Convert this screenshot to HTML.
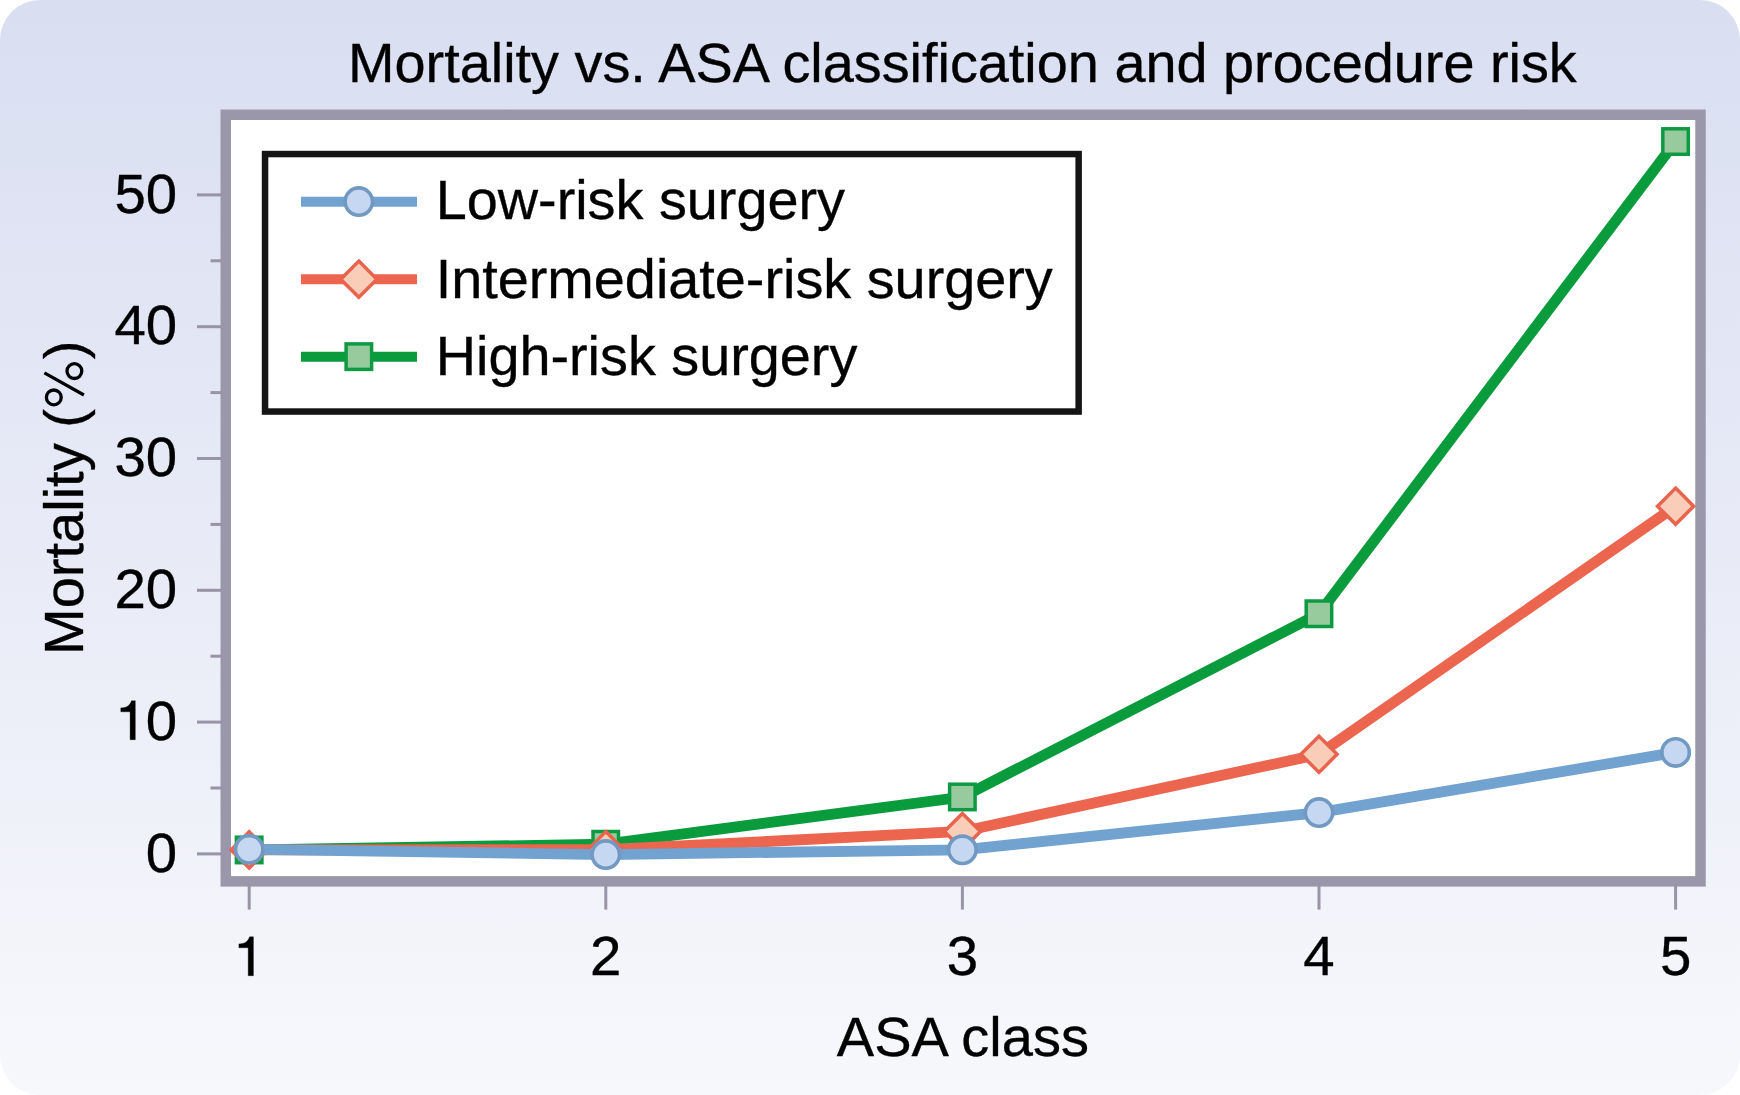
<!DOCTYPE html>
<html><head><meta charset="utf-8">
<style>
html,body{margin:0;padding:0;background:#fff;width:1740px;height:1095px;overflow:hidden}
svg{display:block}
text{font-family:"Liberation Sans", sans-serif;font-size:56px;fill:#000000;stroke:#000000;stroke-width:0.35px}
.ti{font-size:55.84px} .lg{font-size:55.8px} .d{font-size:56.4px}
</style></head><body>
<svg width="1740" height="1095" viewBox="0 0 1740 1095">
<defs>
<linearGradient id="bg" x1="0" y1="0" x2="0" y2="1">
<stop offset="0" stop-color="#d9def1"/>
<stop offset="1" stop-color="#f7f8fc"/>
</linearGradient>
<clipPath id="plot"><rect x="231" y="119.6" width="1464.4" height="756"/></clipPath>
</defs>
<rect x="0" y="0" width="1740" height="1095" rx="40" ry="40" fill="url(#bg)"/>
<text transform="translate(962.4,82)" text-anchor="middle" class="ti">Mortality vs. ASA classification and procedure risk</text>
<rect x="225.75" y="114.75" width="1474.75" height="766.6" fill="#fff" stroke="#9b97ab" stroke-width="10.5"/>
<line x1="197" y1="853.9" x2="222" y2="853.9" stroke="#9893a6" stroke-width="3"/>
<text x="177.2" y="871.5" text-anchor="end" class="d">0</text>
<line x1="197" y1="722.1" x2="222" y2="722.1" stroke="#9893a6" stroke-width="3"/>
<text x="177.2" y="739.7" text-anchor="end" class="d">0</text>
<path d="M135.3,700.8 L135.3,739.7 L130.1,739.7 L130.1,711.8 L120.8,711.8 L120.8,707.9 C126.3,707.9 129.8,705.8 131.5,700.8 Z" fill="#000" stroke="#000" stroke-width="0.35"/>
<line x1="197" y1="590.3" x2="222" y2="590.3" stroke="#9893a6" stroke-width="3"/>
<text x="177.2" y="607.9" text-anchor="end" class="d">20</text>
<line x1="197" y1="458.5" x2="222" y2="458.5" stroke="#9893a6" stroke-width="3"/>
<text x="177.2" y="476.1" text-anchor="end" class="d">30</text>
<line x1="197" y1="326.7" x2="222" y2="326.7" stroke="#9893a6" stroke-width="3"/>
<text x="177.2" y="344.3" text-anchor="end" class="d">40</text>
<line x1="197" y1="194.9" x2="222" y2="194.9" stroke="#9893a6" stroke-width="3"/>
<text x="177.2" y="212.5" text-anchor="end" class="d">50</text>
<line x1="210.5" y1="788.0" x2="222" y2="788.0" stroke="#9893a6" stroke-width="3"/>
<line x1="210.5" y1="656.2" x2="222" y2="656.2" stroke="#9893a6" stroke-width="3"/>
<line x1="210.5" y1="524.4" x2="222" y2="524.4" stroke="#9893a6" stroke-width="3"/>
<line x1="210.5" y1="392.6" x2="222" y2="392.6" stroke="#9893a6" stroke-width="3"/>
<line x1="210.5" y1="260.8" x2="222" y2="260.8" stroke="#9893a6" stroke-width="3"/>
<line x1="249.2" y1="884" x2="249.2" y2="909.6" stroke="#9893a6" stroke-width="3"/>
<path d="M253.4,936.8 L253.4,975.7 L248.2,975.7 L248.2,947.8 L238.9,947.8 L238.9,943.9 C244.4,943.9 247.9,941.8 249.6,936.8 Z" fill="#000" stroke="#000" stroke-width="0.35"/>
<line x1="605.8" y1="884" x2="605.8" y2="909.6" stroke="#9893a6" stroke-width="3"/>
<text x="605.8" y="975.2" text-anchor="middle" class="d">2</text>
<line x1="962.4" y1="884" x2="962.4" y2="909.6" stroke="#9893a6" stroke-width="3"/>
<text x="962.4" y="975.2" text-anchor="middle" class="d">3</text>
<line x1="1319.0" y1="884" x2="1319.0" y2="909.6" stroke="#9893a6" stroke-width="3"/>
<text x="1319.0" y="975.2" text-anchor="middle" class="d">4</text>
<line x1="1675.6" y1="884" x2="1675.6" y2="909.6" stroke="#9893a6" stroke-width="3"/>
<text x="1675.6" y="975.2" text-anchor="middle" class="d">5</text>
<g>
<polyline points="249.2,850.0 605.8,844.2 962.4,797.0 1319.0,613.8 1675.6,141.5" fill="none" stroke="#0a9b3d" stroke-width="10.8" stroke-linejoin="miter"/>
<rect x="236.4" y="837.2" width="25.5" height="25.5" fill="#97cb9e" stroke="#0e9a42" stroke-width="3.5"/>
<rect x="593.0" y="831.5" width="25.5" height="25.5" fill="#97cb9e" stroke="#0e9a42" stroke-width="3.5"/>
<rect x="949.6" y="784.2" width="25.5" height="25.5" fill="#97cb9e" stroke="#0e9a42" stroke-width="3.5"/>
<rect x="1306.2" y="601.0" width="25.5" height="25.5" fill="#97cb9e" stroke="#0e9a42" stroke-width="3.5"/>
<rect x="1662.8" y="128.8" width="25.5" height="25.5" fill="#97cb9e" stroke="#0e9a42" stroke-width="3.5"/>
<polyline points="249.2,849.9 605.8,849.7 962.4,831.5 1319.0,754.3 1675.6,506.2" fill="none" stroke="#eb654f" stroke-width="10.8" stroke-linejoin="miter"/>
<path d="M249.2,831.8 L267.3,849.9 L249.2,868.0 L231.1,849.9 Z" fill="#f9cdb8" stroke="#e8644f" stroke-width="3.5" stroke-linejoin="miter"/>
<path d="M605.8,831.6 L623.9,849.7 L605.8,867.8 L587.7,849.7 Z" fill="#f9cdb8" stroke="#e8644f" stroke-width="3.5" stroke-linejoin="miter"/>
<path d="M962.4,813.4 L980.5,831.5 L962.4,849.6 L944.3,831.5 Z" fill="#f9cdb8" stroke="#e8644f" stroke-width="3.5" stroke-linejoin="miter"/>
<path d="M1319.0,736.2 L1337.1,754.3 L1319.0,772.4 L1300.9,754.3 Z" fill="#f9cdb8" stroke="#e8644f" stroke-width="3.5" stroke-linejoin="miter"/>
<path d="M1675.6,488.1 L1693.7,506.2 L1675.6,524.3 L1657.5,506.2 Z" fill="#f9cdb8" stroke="#e8644f" stroke-width="3.5" stroke-linejoin="miter"/>
<polyline points="249.2,849.3 605.8,854.6 962.4,849.8 1319.0,812.6 1675.6,752.4" fill="none" stroke="#72a2cf" stroke-width="10.8" stroke-linejoin="miter"/>
<circle cx="249.2" cy="849.3" r="13.7" fill="#c6d7f2" stroke="#7199c2" stroke-width="3.6"/>
<circle cx="605.8" cy="854.6" r="13.7" fill="#c6d7f2" stroke="#7199c2" stroke-width="3.6"/>
<circle cx="962.4" cy="849.8" r="13.7" fill="#c6d7f2" stroke="#7199c2" stroke-width="3.6"/>
<circle cx="1319.0" cy="812.6" r="13.7" fill="#c6d7f2" stroke="#7199c2" stroke-width="3.6"/>
<circle cx="1675.6" cy="752.4" r="13.7" fill="#c6d7f2" stroke="#7199c2" stroke-width="3.6"/>
</g>

<rect x="265.05" y="154.05" width="813.6" height="257.5" fill="#fff" stroke="#151515" stroke-width="6.5"/>
<line x1="301" y1="201.7" x2="417" y2="201.7" stroke="#72a2cf" stroke-width="10"/>
<circle cx="358.8" cy="201.6" r="13.7" fill="#c6d7f2" stroke="#7199c2" stroke-width="3.6"/>
<line x1="301" y1="279.2" x2="417" y2="279.2" stroke="#eb654f" stroke-width="10"/>
<path d="M358.8,261.1 L376.9,279.2 L358.8,297.3 L340.7,279.2 Z" fill="#f9cdb8" stroke="#e8644f" stroke-width="3.5" stroke-linejoin="miter"/>
<line x1="301" y1="356.8" x2="417" y2="356.8" stroke="#0a9b3d" stroke-width="10"/>
<rect x="346.1" y="343.9" width="25.5" height="25.5" fill="#97cb9e" stroke="#0e9a42" stroke-width="3.5"/>
<text x="435.7" y="219.1" class="lg">Low-risk surgery</text>
<text x="435.7" y="297.5" class="lg">Intermediate-risk surgery</text>
<text x="435.7" y="374.8" class="lg">High-risk surgery</text>

<text x="962.9" y="1056" text-anchor="middle">ASA class</text>
<text transform="translate(83,497.8) rotate(-90)" text-anchor="middle">Mortality (<tspan fill="transparent" stroke="transparent">%</tspan>)</text>
<circle cx="74.4" cy="371.1" r="7.4" fill="none" stroke="#000" stroke-width="3.3"/>
<circle cx="53.8" cy="397.4" r="7.4" fill="none" stroke="#000" stroke-width="3.3"/>
<line x1="44.4" y1="372.8" x2="83.9" y2="395.0" stroke="#000" stroke-width="3.2"/>
</svg>
</body></html>
